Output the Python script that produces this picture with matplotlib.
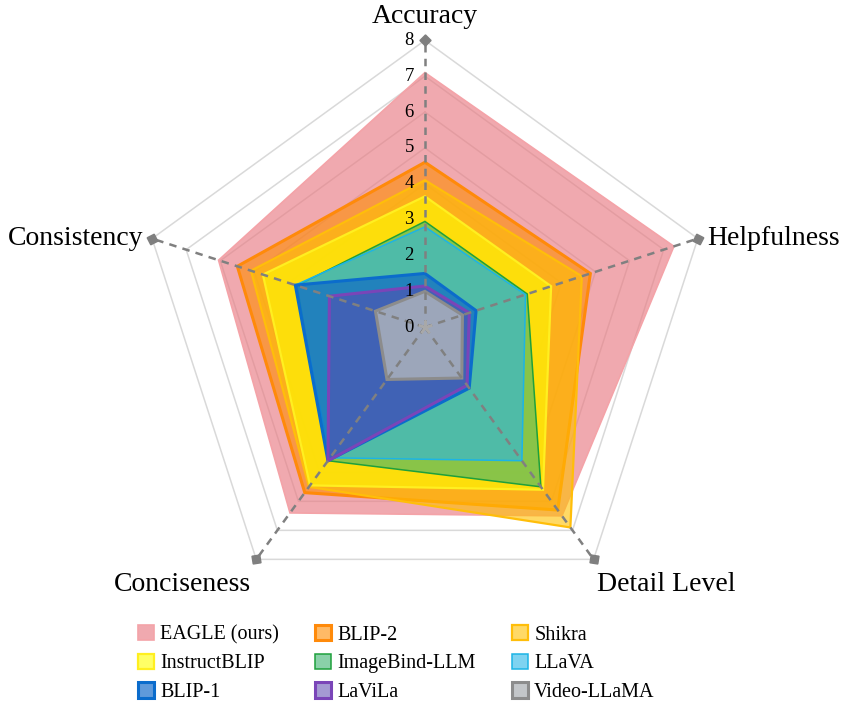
import numpy as np
import matplotlib.pyplot as plt
from matplotlib.colors import to_rgba

plt.rcParams['font.family'] = ['Liberation Serif', 'DejaVu Serif']

# axes, clockwise from the top
categories = ['Accuracy', 'Helpfulness', 'Detail Level', 'Conciseness', 'Consistency']

# scores, same order as categories
eagle = [7.1, 7.3, 6.5, 6.4, 6.05]
blip2 = [4.6, 4.85, 6.3, 5.7, 5.5]
shikra = [4.1, 4.6, 6.9, 5.5, 5.1]
instructblip = [3.65, 3.7, 5.6, 5.45, 4.75]
imagebind = [2.95, 3.0, 5.5, 4.6, 3.75]
llava = [2.8, 2.95, 4.6, 4.5, 3.8]
blip1 = [1.5, 1.5, 2.1, 4.6, 3.8]
lavila = [1.15, 1.3, 2.0, 4.6, 2.8]
videollama = [1.0, 1.1, 1.75, 1.8, 1.45]

# label, values, face, alpha, edge, edge width
series = [
    ('EAGLE (ours)', eagle, '#e97c84', 0.65, '#f4a3a8', 1.2),
    ('BLIP-2', blip2, '#ff8c00', 0.6, '#ff8a0a', 2.2),
    ('Shikra', shikra, '#ffc000', 0.6, '#ffbe0a', 1.6),
    ('InstructBLIP', instructblip, '#ffff00', 0.6, '#ffef20', 1.6),
    ('ImageBind-LLM', imagebind, '#3cb371', 0.6, '#1ea03c', 1.1),
    ('LLaVA', llava, '#29b6e8', 0.6, '#1cb4e6', 1.1),
    ('BLIP-1', blip1, '#0a64c8', 0.65, '#0b6ccc', 2.2),
    ('LaViLa', lavila, '#5a48b0', 0.55, '#7a45b8', 2.2),
    ('Video-LLaMA', videollama, '#b4b8bc', 0.8, '#8c8c8c', 2.2),
]

fig = plt.figure(figsize=(8.49, 7.2), dpi=100)
ax = fig.add_axes([0.1625, 0.147, 0.676, 0.797], polar=True)
ax.set_theta_offset(np.pi / 2)
ax.set_theta_direction(-1)
ax.set_ylim(0, 8)
ax.grid(False)
ax.set_xticks([])
ax.set_yticks([])
ax.spines['polar'].set_visible(False)
ax.patch.set_visible(False)

angles = np.linspace(0, 2 * np.pi, len(categories), endpoint=False)
closed = np.append(angles, angles[0])

# pentagon grid
for k in range(1, 9):
    ax.plot(closed, [k] * len(closed), color='#d9d9d9', lw=1.1, zorder=1, clip_on=False)

handles = []
for i, (label, vals, face, alpha, edge, lw) in enumerate(series):
    v = vals + vals[:1]
    poly = ax.fill(closed, v, facecolor=to_rgba(face, alpha), edgecolor=edge,
                   lw=lw, joinstyle='miter', zorder=2 + i, label=label)[0]
    handles.append(poly)

# dashed spokes with end markers
for a in angles:
    ax.plot([a, a], [0, 8], color='#808080', ls=(0, (3, 2.5)), lw=1.8, zorder=30, clip_on=False)
    ax.plot([a], [8], marker=(4, 0, -np.degrees(a)), ms=8, color='#7f7f7f',
            zorder=31, clip_on=False)
ax.plot([0], [0], marker=(5, 2, 0), ms=10, mew=1.6, color='#a8a8a8', zorder=31)

# radial tick labels
for k in range(9):
    ax.annotate(str(k), xy=(0, k), xytext=(-11, 0), textcoords='offset pixels',
                ha='right', va='center', fontsize=13.5, zorder=40)

# category labels
offsets = [(0, 24, 'center'), (9, 0, 'left'), (73, -25, 'center'),
           (-74, -25, 'center'), (-9, 0, 'right')]
for a, name, (dx, dy, ha) in zip(angles, categories, offsets):
    ax.annotate(name, xy=(a, 8), xytext=(dx, dy), textcoords='offset pixels',
                ha=ha, va='center', fontsize=20, annotation_clip=False)

# legend, filled row by row
order = [0, 3, 6, 1, 4, 7, 2, 5, 8]
fig.legend([handles[i] for i in order], [series[i][0] for i in order],
           ncol=3, loc='upper left', bbox_to_anchor=(0.1625, 0.132),
           frameon=False, fontsize=14.5, handlelength=0.8, handleheight=0.8,
           handletextpad=0.3, columnspacing=1.8, labelspacing=0.45,
           borderpad=0, borderaxespad=0)

fig.savefig('out.png', dpi=100)
